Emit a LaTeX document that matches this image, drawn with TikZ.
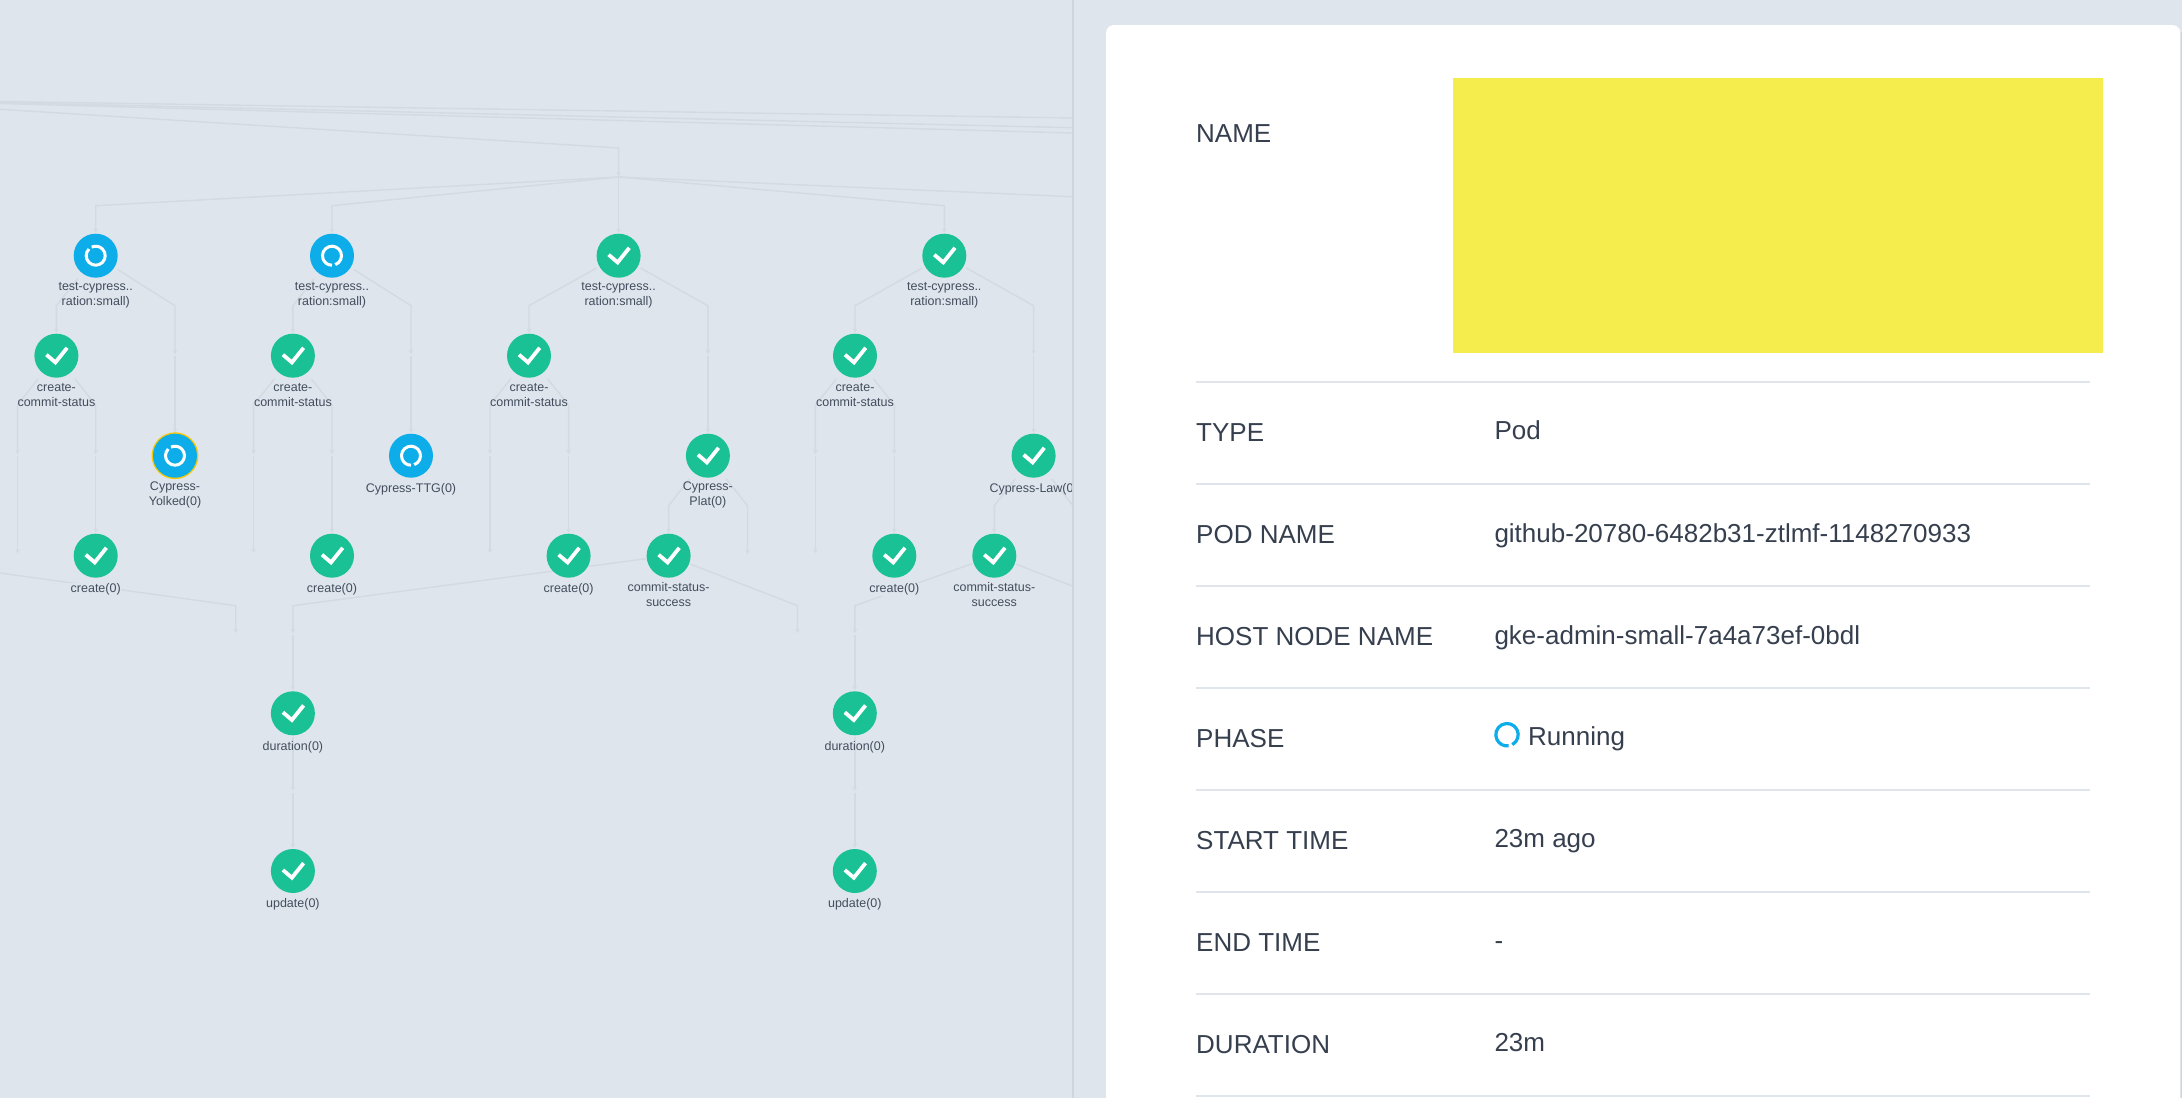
\documentclass[tikz,border=0pt]{standalone}
\usepackage{fontspec}
\setmainfont{Liberation Sans}
\usetikzlibrary{arrows.meta}
\definecolor{bg}{HTML}{DEE5EC}
\definecolor{edgec}{HTML}{D3DAE1}
\definecolor{sepc}{HTML}{CDD6DD}
\definecolor{rulec}{HTML}{DFE5EA}
\definecolor{okc}{HTML}{19C195}
\definecolor{runc}{HTML}{0DADEA}
\definecolor{labc}{HTML}{434D5D}
\definecolor{txtc}{HTML}{363F4E}
\definecolor{yel}{HTML}{F5EC4E}
\definecolor{selc}{HTML}{F7C808}
\pgfdeclarelayer{under}
\pgfsetlayers{under,main}
\tikzset{
  hit/.style={rectangle,minimum width=44pt,minimum height=46.4pt,inner sep=0pt,outer sep=0pt},
  checkm/.style={draw=white,line width=3.8pt},
  ringst/.style={draw=white,line width=3pt},
  lab/.style={text=labc,align=center,inner sep=0.5pt,font=\fontsize{12.5}{14.7}\selectfont},
  edge/.style={draw=edgec,line width=1.4pt,-{Stealth[length=4pt,width=4.5pt]}},
  plain/.style={draw=edgec,line width=1.4pt},
  gap/.style={shorten <=1pt,shorten >=1pt},
  gapa/.style={shorten >=1pt},
  gapb/.style={shorten <=1pt},
  rowrule/.style={draw=rulec,line width=2pt},
  keyt/.style={anchor=base west,inner sep=0pt,text=txtc,font=\fontsize{26}{30}\selectfont},
  valt/.style={anchor=base west,inner sep=0pt,text=txtc,font=\fontsize{26}{30}\selectfont}
}
% [label options]{name}{x,y}{label offset}{label}
\newcommand\oknode[5][]{%
  \node[hit] (#2) at (#3) {};
  \fill[okc] (#2.center) circle (22pt);
  \draw[checkm] ([xshift=-10pt,yshift=1pt]#2.center) -- ++(9,7.7) -- ++(11.7,-14.6);
  \node[lab,#1] (#2l) at ([yshift=-#4pt]#2.center) {#5};
}
% [label options]{name}{x,y}{label offset}{label}{gap angle}
\newcommand\runnode[6][]{%
  \node[hit] (#2) at (#3) {};
  \fill[runc] (#2.center) circle (22pt);
  \draw[ringst,x=1pt,y=1pt] (#2.center) ++(#6+10:9.5) arc[start angle=#6+10,delta angle=340,radius=9.5];
  \node[lab,#1] (#2l) at ([yshift=-#4pt]#2.center) {#5};
}
\begin{document}
\begin{tikzpicture}[x=1pt,y=-1pt]
\useasboundingbox (0,0) rectangle (2182,1098);
\begin{pgfonlayer}{under}
  \fill[bg] (0,0) rectangle (2182,1098);
\end{pgfonlayer}

% ---- top row
\runnode{ta}{95.7,255.7}{39.6}{test-cypress..\\ration:small)}{125}
\runnode{tb}{332,255.7}{39.6}{test-cypress..\\ration:small)}{-80}
\oknode{tc}{618.6,255.7}{39.6}{test-cypress..\\ration:small)}
\oknode{td}{944.3,255.7}{39.6}{test-cypress..\\ration:small)}
% ---- create-commit-status
\oknode{ca}{56.4,355.7}{39}{create-\\commit-status}
\oknode{cb}{292.9,355.7}{39}{create-\\commit-status}
\oknode{cc}{529,355.7}{39}{create-\\commit-status}
\oknode{cd}{855,355.7}{39}{create-\\commit-status}
% ---- cypress jobs
\draw[selc,line width=2.2pt] (175,455.7) circle (22.3pt);
\runnode{ya}{175,455.7}{39.3}{Cypress-\\Yolked(0)}{125}
\runnode{yb}{411,455.7}{34}{Cypress-TTG(0)}{-80}
\oknode{yc}{707.9,455.7}{39.3}{Cypress-\\Plat(0)}
\oknode{yd}{1033.6,455.7}{34}{Cypress-Law(0)}
% ---- create
\oknode[fill=bg]{ea}{95.7,555.7}{34}{create(0)}
\oknode[fill=bg]{eb}{332,555.7}{34}{create(0)}
\oknode[fill=bg]{ec}{568.6,555.7}{34}{create(0)}
\oknode[fill=bg]{ed}{894.3,555.7}{34}{create(0)}
% ---- commit-status-success
\oknode{sa}{668.6,555.7}{39}{commit-status-\\success}
\oknode{sb}{994.3,555.7}{39}{commit-status-\\success}
% ---- duration / update
\oknode{da}{292.9,713.3}{33.5}{duration(0)}
\oknode{db}{854.8,713.3}{33.5}{duration(0)}
\oknode{ua}{292.9,871}{33.5}{update(0)}
\oknode{ub}{854.8,871}{33.5}{update(0)}

% ---- bends and free ends
\coordinate (topA) at (0,101.5);
\coordinate (topB) at (0,102.5);
\coordinate (topC) at (0,103.5);
\coordinate (topAe) at (1073,118);
\coordinate (topBe) at (1073,127.7);
\coordinate (topCe) at (1073,133);
\coordinate (topD) at (0,109.3);
\coordinate (topDb) at (618.6,148);
\coordinate (jn) at (618.6,177);
\coordinate (jna) at (95.7,205.7);
\coordinate (jnb) at (332,205.7);
\coordinate (jnd) at (944.3,205.7);
\coordinate (jne) at (1073,196.7);
\coordinate (ta1) at (56.4,305.7);
\coordinate (ta2) at (175,305.7);
\coordinate (tb1) at (292.9,305.7);
\coordinate (tb2) at (411,305.7);
\coordinate (tc1) at (529,305.7);
\coordinate (tc2) at (707.9,305.7);
\coordinate (td1) at (855,305.7);
\coordinate (td2) at (1033.6,305.7);
\coordinate (da2) at (175,355);
\coordinate (db2) at (411,355);
\coordinate (dc2) at (707.9,355);
\coordinate (dd2) at (1033.6,355);
\foreach \n/\l/\r in {a/17.5/95.7,b/253.6/332,c/490/568.6,d/815.4/894.3}{
  \coordinate (c\n1) at (\l,405);
  \coordinate (c\n2) at (\r,405);
  \coordinate (k\n1) at (\l,455);
  \coordinate (k\n2) at (\r,455);
  \coordinate (f\n1) at (\l,554);
}
\coordinate (ycl) at (668.6,505.7);
\coordinate (ycr) at (747.5,505.7);
\coordinate (ycrf) at (747.5,554);
\coordinate (ydl) at (994.3,505.7);
\coordinate (ydr) at (1073,505.7);
\coordinate (ydrf) at (1073,554);
\coordinate (offl) at (0,573);
\coordinate (offb) at (235.7,605.7);
\coordinate (offf) at (235.7,633);
\coordinate (sal) at (292.9,605.7);
\coordinate (sak) at (292.9,634);
\coordinate (sar) at (797.5,605.7);
\coordinate (sarf) at (797.5,633);
\coordinate (sbl) at (854.8,605.7);
\coordinate (sbk) at (854.8,634);
\coordinate (sbr) at (1123,605.7);
\coordinate (dak) at (292.9,791.5);
\coordinate (dbk) at (854.8,791.5);

\begin{pgfonlayer}{under}
  \draw[plain] (topA) -- (topAe);
  \draw[plain] (topB) -- (topBe);
  \draw[plain] (topC) -- (topCe);
  \draw[edge,gapa] (topD) -- (topDb) -- (jn);
  \draw[edge] (jn) -- (jna) -- (ta);
  \draw[edge] (jn) -- (jnb) -- (tb);
  \draw[edge] (jn) -- (tc);
  \draw[edge] (jn) -- (jnd) -- (td);
  \draw[plain] (jn) -- (jne);

  \draw[edge] (ta) -- (ta1) -- (ca);
  \draw[edge,gapa] (ta) -- (ta2) -- (da2);
  \draw[edge,gapb] (da2) -- (ya);
  \draw[edge] (tb) -- (tb1) -- (cb);
  \draw[edge,gapa] (tb) -- (tb2) -- (db2);
  \draw[edge,gapb] (db2) -- (yb);
  \draw[edge] (tc) -- (tc1) -- (cc);
  \draw[edge,gapa] (tc) -- (tc2) -- (dc2);
  \draw[edge,gapb] (dc2) -- (yc);
  \draw[edge] (td) -- (td1) -- (cd);
  \draw[edge,gapa] (td) -- (td2) -- (dd2);
  \draw[edge,gapb] (dd2) -- (yd);

  \foreach \n in {a,b,c,d}{
    \draw[edge,gapa] (c\n) -- (c\n1) -- (k\n1);
    \draw[edge,gap] (k\n1) -- (f\n1);
    \draw[edge,gapa] (c\n) -- (c\n2) -- (k\n2);
    \draw[edge,gapb] (k\n2) -- (e\n);
  }
  \draw[edge] (yc) -- (ycl) -- (sa);
  \draw[edge] (yc) -- (ycr) -- (ycrf);
  \draw[edge] (yd) -- (ydl) -- (sb);
  \draw[plain] (yd) -- (ydr) -- (ydrf);

  \draw[edge] (offl) -- (offb) -- (offf);
  \draw[edge,gapa] (sa) -- (sal) -- (sak);
  \draw[edge,gapb] (sak) -- (da);
  \draw[edge] (sa) -- (sar) -- (sarf);
  \draw[edge,gapa] (sb) -- (sbl) -- (sbk);
  \draw[edge,gapb] (sbk) -- (db);
  \draw[plain] (sb) -- (sbr);
  \draw[edge,gapa] (da) -- (dak);
  \draw[edge,gapb] (dak) -- (ua);
  \draw[edge,gapa] (db) -- (dbk);
  \draw[edge,gapb] (dbk) -- (ub);
\end{pgfonlayer}

% ---- right side
\fill[bg] (1073,0) rectangle (2182,1098);
\draw[sepc,line width=2pt] (1073,0) -- (1073,1098);
\draw[sepc,line width=1.6pt] (2181.2,32) -- (2181.2,1098);
\fill[white,rounded corners=8pt] (1106,1110) -- (1106,25) -- (2180.4,25) -- (2180.4,1110) -- cycle;
\fill[yel] (1453,78) rectangle (2103,352.7);
\foreach \y in {382,484,585.8,687.5,789.5,891.5,993.5,1095.5}
  \draw[rowrule] (1196,\y) -- (2090,\y);

\node[keyt] (kname) at (1196,142.5) {NAME};
\node[keyt] (ktype) at (1196,441.7) {TYPE};
\node[keyt] (kpod) at (1196,543.7) {POD NAME};
\node[keyt] (khost) at (1196,645.7) {HOST NODE NAME};
\node[keyt] (kphase) at (1196,747.2) {PHASE};
\node[keyt] (kstart) at (1196,849.2) {START TIME};
\node[keyt] (kend) at (1196,951.2) {END TIME};
\node[keyt] (kdur) at (1196,1053.2) {DURATION};

\node[valt] (vtype) at (1494.3,439.7) {Pod};
\node[valt] (vpod) at (1494.3,542.5) {github-20780-6482b31-ztlmf-1148270933};
\node[valt] (vhost) at (1494.3,644) {gke-admin-small-7a4a73ef-0bdl};
\coordinate (spin) at (1507,734.7);
\draw[runc,line width=3.2pt,x=1pt,y=1pt] (spin) ++(-62:11.2) arc[start angle=-62,delta angle=340,radius=11.2];
\node[valt] (vphase) at (1528,745.7) {Running};
\node[valt] (vstart) at (1494.3,847.7) {23m ago};
\node[valt] (vend) at (1494.3,949.7) {-};
\node[valt] (vdur) at (1494.3,1051.7) {23m};
\end{tikzpicture}
\end{document}
